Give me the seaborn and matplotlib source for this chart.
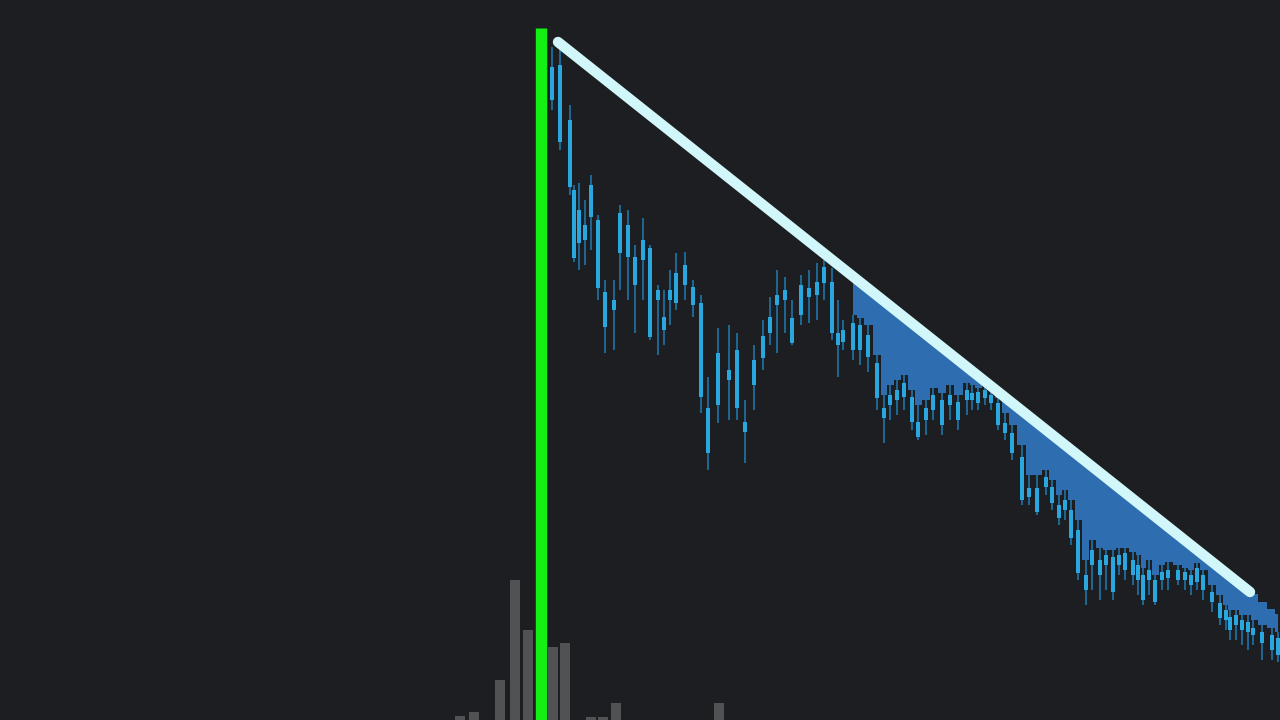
import numpy as np
import matplotlib
matplotlib.use("Agg")
import matplotlib.pyplot as plt
import seaborn as sns

# candle data: time position, open (body top), close (body bottom), high, low
candle_x = [552, 560, 570, 574, 579, 585, 591, 598, 605, 614, 620, 628, 635, 643, 650, 658, 664,
            670, 676, 685, 693, 701, 708, 718, 729, 737, 745, 754, 763, 770, 777, 785, 792, 801,
            809, 817, 824, 832, 838, 843, 853, 860, 868, 877, 884, 890, 897, 904, 912, 918, 926,
            933, 942, 950, 958, 967, 972, 978, 985, 991, 998, 1005, 1012, 1022, 1029, 1037, 1046,
            1052, 1059, 1065, 1071, 1078, 1086, 1092, 1100, 1106, 1113, 1119, 1125, 1133, 1138,
            1143, 1149, 1155, 1162, 1168, 1178, 1185, 1191, 1197, 1203, 1212, 1220, 1226, 1230,
            1236, 1242, 1248, 1253, 1262, 1272, 1278]
candle_open = [653, 655, 600, 530, 510, 495, 535, 500, 428, 420, 507, 495, 463, 480, 472, 430, 403,
               430, 447, 455, 433, 417, 312, 367, 350, 370, 298, 360, 384, 403, 425, 430, 402, 435,
               432, 438, 453, 438, 387, 390, 397, 395, 385, 357, 312, 325, 330, 337, 323, 298, 312,
               325, 320, 325, 318, 330, 327, 328, 330, 325, 317, 297, 287, 263, 232, 232, 243,
               233, 215, 220, 210, 190, 145, 170, 160, 165, 163, 165, 167, 160, 155,
               145, 150, 140, 148, 150, 150, 148, 145, 152, 145, 128, 117, 110, 103,
               105, 100, 98, 92, 88, 85, 82]
candle_close = [620, 578, 533, 462, 477, 480, 503, 432, 393, 410, 467, 463, 435, 460, 383, 420, 390,
                420, 417, 435, 415, 323, 267, 315, 340, 312, 288, 335, 362, 387, 415, 420, 377, 405,
                423, 425, 437, 387, 375, 378, 370, 370, 363, 322, 302, 315, 320, 323, 298, 283, 300,
                310, 295, 315, 300, 320, 320, 317, 322, 317, 295, 287, 267, 220, 223, 208, 233,
                217, 202, 210, 182, 147, 130, 155, 145, 155, 128, 155, 150, 145, 140,
                120, 140, 118, 140, 142, 140, 140, 135, 138, 130, 118, 102, 100, 90,
                95, 90, 88, 85, 77, 70, 65]
candle_high = [673, 670, 615, 535, 537, 520, 545, 505, 440, 440, 515, 510, 475, 502, 475, 435, 430,
               450, 467, 468, 440, 425, 343, 392, 395, 387, 320, 375, 400, 423, 450, 443, 420, 445,
               450, 457, 460, 452, 420, 400, 405, 402, 395, 365, 325, 335, 340, 345, 330, 315, 320,
               332, 327, 335, 325, 337, 335, 332, 335, 330, 322, 307, 295, 275, 245, 245, 250,
               240, 225, 230, 220, 200, 160, 180, 172, 170, 170, 172, 172, 168, 165,
               152, 160, 145, 155, 158, 155, 152, 150, 157, 150, 135, 125, 115, 110,
               110, 105, 105, 100, 95, 92, 88]
candle_low = [610, 570, 525, 458, 450, 455, 470, 420, 367, 370, 430, 420, 387, 420, 380, 365, 375,
              395, 410, 420, 403, 307, 250, 297, 300, 300, 257, 310, 350, 375, 367, 387, 375, 395,
              397, 400, 420, 380, 343, 370, 360, 355, 348, 310, 277, 300, 305, 310, 290, 280, 285,
              300, 285, 300, 290, 305, 310, 310, 315, 310, 290, 280, 260, 215, 215, 205, 225,
              210, 195, 200, 175, 140, 115, 130, 120, 130, 120, 145, 140, 135, 125,
              115, 125, 115, 130, 130, 135, 130, 125, 130, 120, 108, 95, 90, 80,
              80, 75, 70, 75, 60, 60, 58]

# descending trend line (two anchor points)
trend_x = [558, 1250]
trend_y = [678, 128]
fill_from_x = 845

# vertical marker
signal_x = 541
signal_top = 692

# volume bars
volume_x = [460, 474, 500, 515, 528, 553, 565, 591, 603, 616, 719]
volume_h = [4, 8, 40, 140, 90, 73, 77, 3, 3, 17, 17]

bg = "#1c1e21"
sns.set_theme(style="dark", rc={"axes.facecolor": bg, "figure.facecolor": bg})

fig = plt.figure(figsize=(12.8, 7.2), dpi=100)
ax = fig.add_axes([0, 0, 1, 1])
ax.set_facecolor(bg)

cx = np.array(candle_x)
op = np.array(candle_open)
cl = np.array(candle_close)
hi = np.array(candle_high)
lo = np.array(candle_low)

# volume
ax.bar(volume_x, volume_h, width=10, bottom=0, color="#515254",
       edgecolor="none", linewidth=0, zorder=1)

# green marker
ax.vlines(signal_x, 0, signal_top, color="#14f014", lw=8.2, zorder=2)

# shaded gap between trend line and candle highs
slope = (trend_y[1] - trend_y[0]) / (trend_x[1] - trend_x[0])
line_at = trend_y[0] + slope * (cx - trend_x[0])
mask = cx >= fill_from_x
ax.fill_between(cx[mask], hi[mask], line_at[mask], where=line_at[mask] > hi[mask],
                step="mid", color="#2e6db0", lw=0, zorder=2)

# candles
ax.vlines(cx, lo, hi, color="#1f6e9e", lw=1.3, zorder=3)
ax.bar(cx, op - cl, width=4.8, bottom=cl, color="#2aa7df",
       edgecolor="none", linewidth=0, zorder=4)

# trend line
sns.lineplot(x=trend_x, y=trend_y, ax=ax, color="#d2f7fa", lw=7.5,
             solid_capstyle="round", zorder=5)

ax.set_xlim(0, 1280)
ax.set_ylim(0, 720)
ax.axis("off")

fig.savefig("out.png", dpi=100, facecolor=bg)
